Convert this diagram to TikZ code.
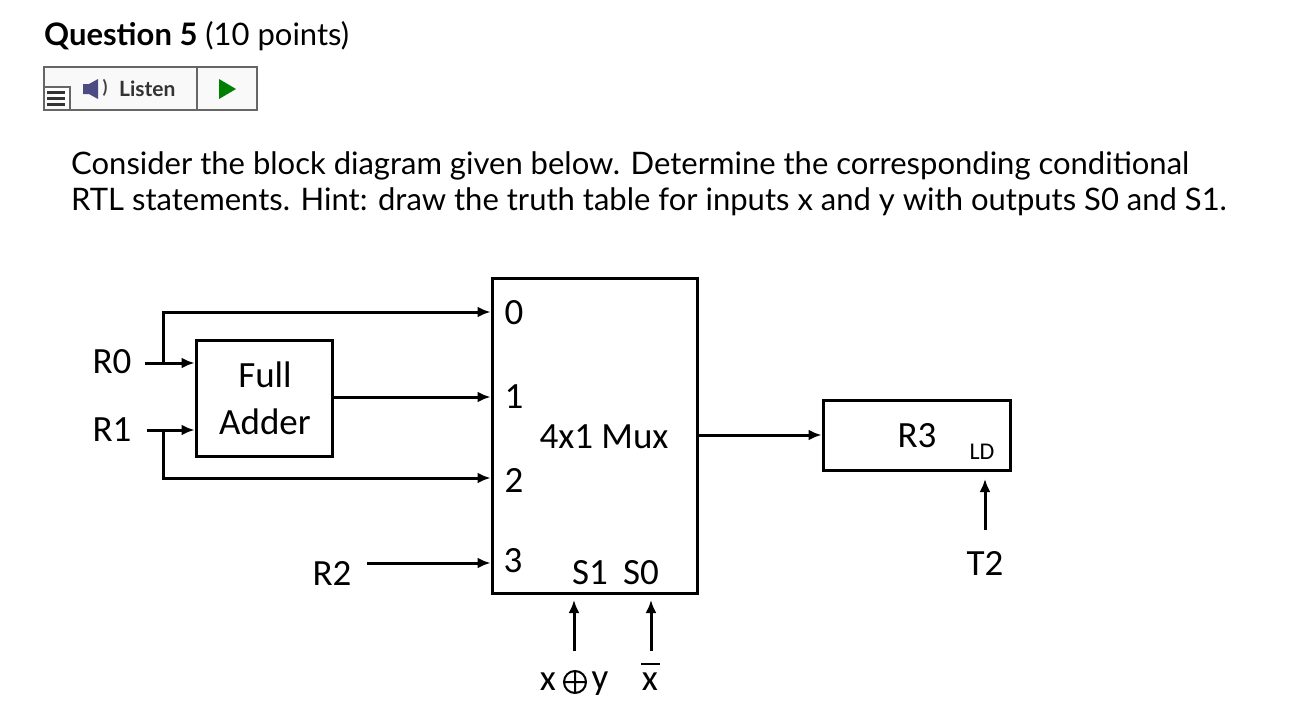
\documentclass[tikz,border=0pt]{standalone}
\usepackage{fontspec}
\setmainfont{Lato}
\newfontfamily\dia{Carlito}
\usetikzlibrary{arrows.meta}
\begin{document}
\begin{tikzpicture}[x=1pt,y=-1pt,
  wire/.style={line width=3pt},
  arr/.style={wire,-{Latex[length=13pt,width=11pt]}},
  box/.style={draw,line width=3pt,inner sep=0pt},
  dl/.style={font=\dia\fontsize{37}{40}\selectfont,inner sep=0pt},
  bt/.style={font=\fontsize{31}{34}\selectfont,anchor=west,inner sep=0pt}]
\useasboundingbox (0,0) rectangle (1310,726);
\fill[white] (0,0) rectangle (1310,726);
% header
\node[bt] (title) at (44,36) {\textbf{Question 5} (10 points)};
\draw[gray!80!black,line width=1.5pt,fill=gray!5] (44,67) rectangle (257,110);
\draw[gray!80!black,line width=1.5pt] (197,67) -- (197,110);
\draw[gray!80!black,line width=1.2pt,fill=white] (44,87) -- (70,87) -- (70,110);
\foreach \yy in {93,99,105} \fill[black!80] (47,\yy-2) rectangle (65,\yy+1);
\fill[blue!30!black!70] (83,84) -- (89,84) -- (98,79) -- (98,99) -- (89,94) -- (83,94) -- cycle;
\node[inner sep=0pt,font=\fontsize{18}{20}\selectfont\bfseries,text=black!75] (par) at (105,88) {)};
\node[inner sep=0pt,anchor=west,font=\fontsize{21}{24}\selectfont\bfseries,text=black!80] (listen) at (119,89) {Listen};
\fill[green!50!black] (219,79) -- (236,89) -- (219,99) -- cycle;
\node[bt] (l1) at (71,166) {Consider the block diagram given below. Determine the corresponding conditional};
\node[bt] (l2) at (71,202) {RTL statements. Hint: draw the truth table for inputs x and y with outputs S0 and S1.};
% diagram
\node[box,minimum width=205pt,minimum height=315pt] (mux) at (594.5,435.5) {};
\node[box,minimum width=136pt,minimum height=116pt] (fa) at (264,398) {};
\node[box,minimum width=187pt,minimum height=70pt] (r3) at (916.5,435) {};
\node[dl] (full) at (265,375) {Full};
\node[dl] (adder) at (265,422) {Adder};
\node[dl] (mx) at (604,437) {4x1 Mux};
\node[dl] (r3t) at (917,436) {R3};
\node[dl,font=\dia\fontsize{24}{26}\selectfont] (ld) at (982,452) {LD};
\node[dl] (i0) at (514,313) {0};
\node[dl] (i1) at (514,397) {1};
\node[dl] (i2) at (514,480) {2};
\node[dl] (i3) at (513,561) {3};
\node[dl] (s1) at (590,573) {S1};
\node[dl] (s0) at (641,573) {S0};
\node[dl] (r0) at (112,362) {R0};
\node[dl] (r1) at (112,430) {R1};
\node[dl] (r2) at (332,573) {R2};
\node[dl] (t2) at (985,563) {T2};
\node[dl] (xx) at (548,682) {x};
\node[dl] (yy) at (600,684) {y};
\draw[line width=2pt] (575,682) circle (11) (564,682) -- (586,682) (575,671) -- (575,693);
\node[dl] (xb) at (650,682) {x};
\draw[line width=2pt] (641,664) -- (660,664);
\coordinate (r0e) at (145,363); \coordinate (r1e) at (147,430);
\draw[arr] (r0e) -- (fa.west |- r0e);
\draw[arr] (r1e) -- (fa.west |- r1e);
\draw[arr] (163,363) -- (163,312) -- (mux.west |- 0,312);
\draw[arr] (163,430) -- (163,478) -- (mux.west |- 0,478);
\draw[arr] (fa.east |- 0,397) -- (mux.west |- 0,397);
\draw[arr] (367,563) -- (mux.west |- 0,563);
\draw[arr] (mux.east |- 0,435) -- (r3.west);
\draw[arr] (985,530) -- (985,479);
\draw[arr] (574,651) -- (574,600);
\draw[arr] (651,651) -- (651,600);
\end{tikzpicture}
\end{document}
